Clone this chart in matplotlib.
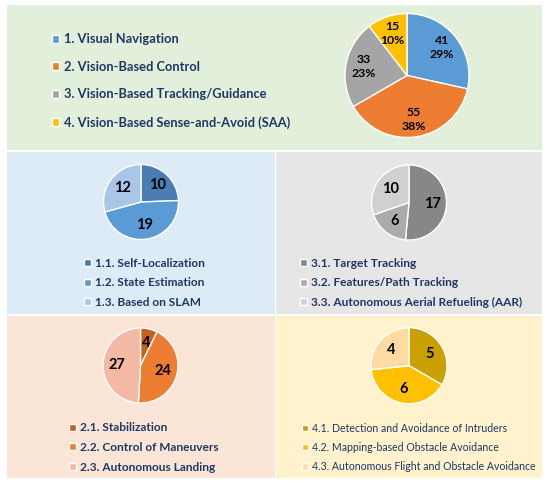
import matplotlib
matplotlib.use("Agg")
import matplotlib.pyplot as plt
from matplotlib.patches import Rectangle

# -------------------------
# DATA
# -------------------------
main_labels = ["1. Visual Navigation", "2. Vision-Based Control",
               "3. Vision-Based Tracking/Guidance", "4. Vision-Based Sense-and-Avoid (SAA)"]
main_values = [41, 55, 33, 15]
main_pcts = ["29%", "38%", "23%", "10%"]

nav_labels = ["1.1. Self-Localization", "1.2. State Estimation", "1.3. Based on SLAM"]
nav_values = [10, 19, 12]

track_labels = ["3.1. Target Tracking", "3.2. Features/Path Tracking",
                "3.3. Autonomous Aerial Refueling (AAR)"]
track_values = [17, 6, 10]

ctrl_labels = ["2.1. Stabilization", "2.2. Control of Maneuvers", "2.3. Autonomous Landing"]
ctrl_values = [4, 24, 27]

saa_labels = ["4.1. Detection and Avoidance of Intruders", "4.2. Mapping-based Obstacle Avoidance",
              "4.3. Autonomous Flight and Obstacle Avoidance"]
saa_values = [5, 6, 4]

# colours
main_colors = ["#5B9BD5", "#ED7D31", "#A5A5A5", "#FFC000"]
nav_colors = ["#4A7DB4", "#5B9BD5", "#A9C5E8"]
track_colors = ["#878787", "#ABABAB", "#D0D0D0"]
ctrl_colors = ["#C5601E", "#ED7D31", "#F4B9A4"]
saa_colors = ["#C9A000", "#FFC000", "#FFDBA4"]

W, H = 550, 486
NAVY = "#1F3864"
TEXT_FONT = ["Lato", "DejaVu Sans"]

fig = plt.figure(figsize=(W / 100, H / 100), dpi=100)
fig.patch.set_facecolor("white")

# background panels (pixel coords)
bg = fig.add_axes([0, 0, 1, 1])
bg.set_xlim(0, W)
bg.set_ylim(H, 0)
bg.axis("off")
panels = [
    (7, 5, 535, 145, "#E2EFDA"),
    (7, 152, 268, 162, "#DDEBF7"),
    (276, 152, 266, 162, "#E7E6E6"),
    (7, 316, 268, 162, "#FBE5D6"),
    (276, 316, 266, 162, "#FFF2CC"),
]
for x, y, w, h, c in panels:
    bg.add_patch(Rectangle((x, y), w, h, facecolor=c, edgecolor="none"))


def pie_axes(cx, cy, r):
    return fig.add_axes([(cx - r) / W, 1 - (cy + r) / H, 2 * r / W, 2 * r / H])


def draw_pie(cx, cy, r, values, colors, labels, texts, dist, size):
    ax = pie_axes(cx, cy, r)
    it = iter(texts)
    wedges, _, _ = ax.pie(values, colors=colors, labels=labels, labeldistance=None,
                          startangle=90, counterclock=False,
                          autopct=lambda p: next(it), pctdistance=dist,
                          wedgeprops=dict(edgecolor="white", linewidth=1.0),
                          textprops=dict(fontsize=size, fontweight="bold",
                                         color="black", family=TEXT_FONT,
                                         linespacing=1.35))
    ax.set_xlim(-1, 1)
    ax.set_ylim(-1, 1)
    return wedges


def add_legend(wedges, x, y, size, spacing, weight="bold"):
    leg = fig.legend(handles=wedges, loc="center left",
                     bbox_to_anchor=(x / W, 1 - y / H), frameon=False,
                     borderpad=0, borderaxespad=0, handlelength=0.55,
                     handleheight=0.55, handletextpad=0.4, labelspacing=spacing,
                     prop=dict(size=size, weight=weight, family=TEXT_FONT))
    for t in leg.get_texts():
        t.set_color(NAVY)
    return leg


# -------------------------
# TOP PIE
# -------------------------
top_text = [f"{v}\n{p}" for v, p in zip(main_values, main_pcts)]
w_main = draw_pie(407, 75.5, 62, main_values, main_colors, main_labels, top_text, 0.72, 8.8)
add_legend(w_main, 52, 81, 9.3, 1.2)

# -------------------------
# SUB PIES
# -------------------------
w_nav = draw_pie(141, 202, 37.5, nav_values, nav_colors, nav_labels,
                 [str(v) for v in nav_values], 0.62, 10.5)
add_legend(w_nav, 84, 283, 8.6, 0.72)

w_track = draw_pie(409, 202.5, 37.5, track_values, track_colors, track_labels,
                   [str(v) for v in track_values], 0.62, 10.5)
add_legend(w_track, 300, 283, 8.6, 0.72)

w_ctrl = draw_pie(140.5, 365.5, 37.5, ctrl_values, ctrl_colors, ctrl_labels,
                  [str(v) for v in ctrl_values], 0.62, 10.5)
add_legend(w_ctrl, 69, 447.5, 8.6, 0.72)

w_saa = draw_pie(409, 365.7, 38, saa_values, saa_colors, saa_labels,
                 [str(v) for v in saa_values], 0.62, 10.5)
add_legend(w_saa, 301.7, 447.5, 7.6, 0.78, weight="normal")

fig.savefig("out.png", dpi=100, facecolor="white")
